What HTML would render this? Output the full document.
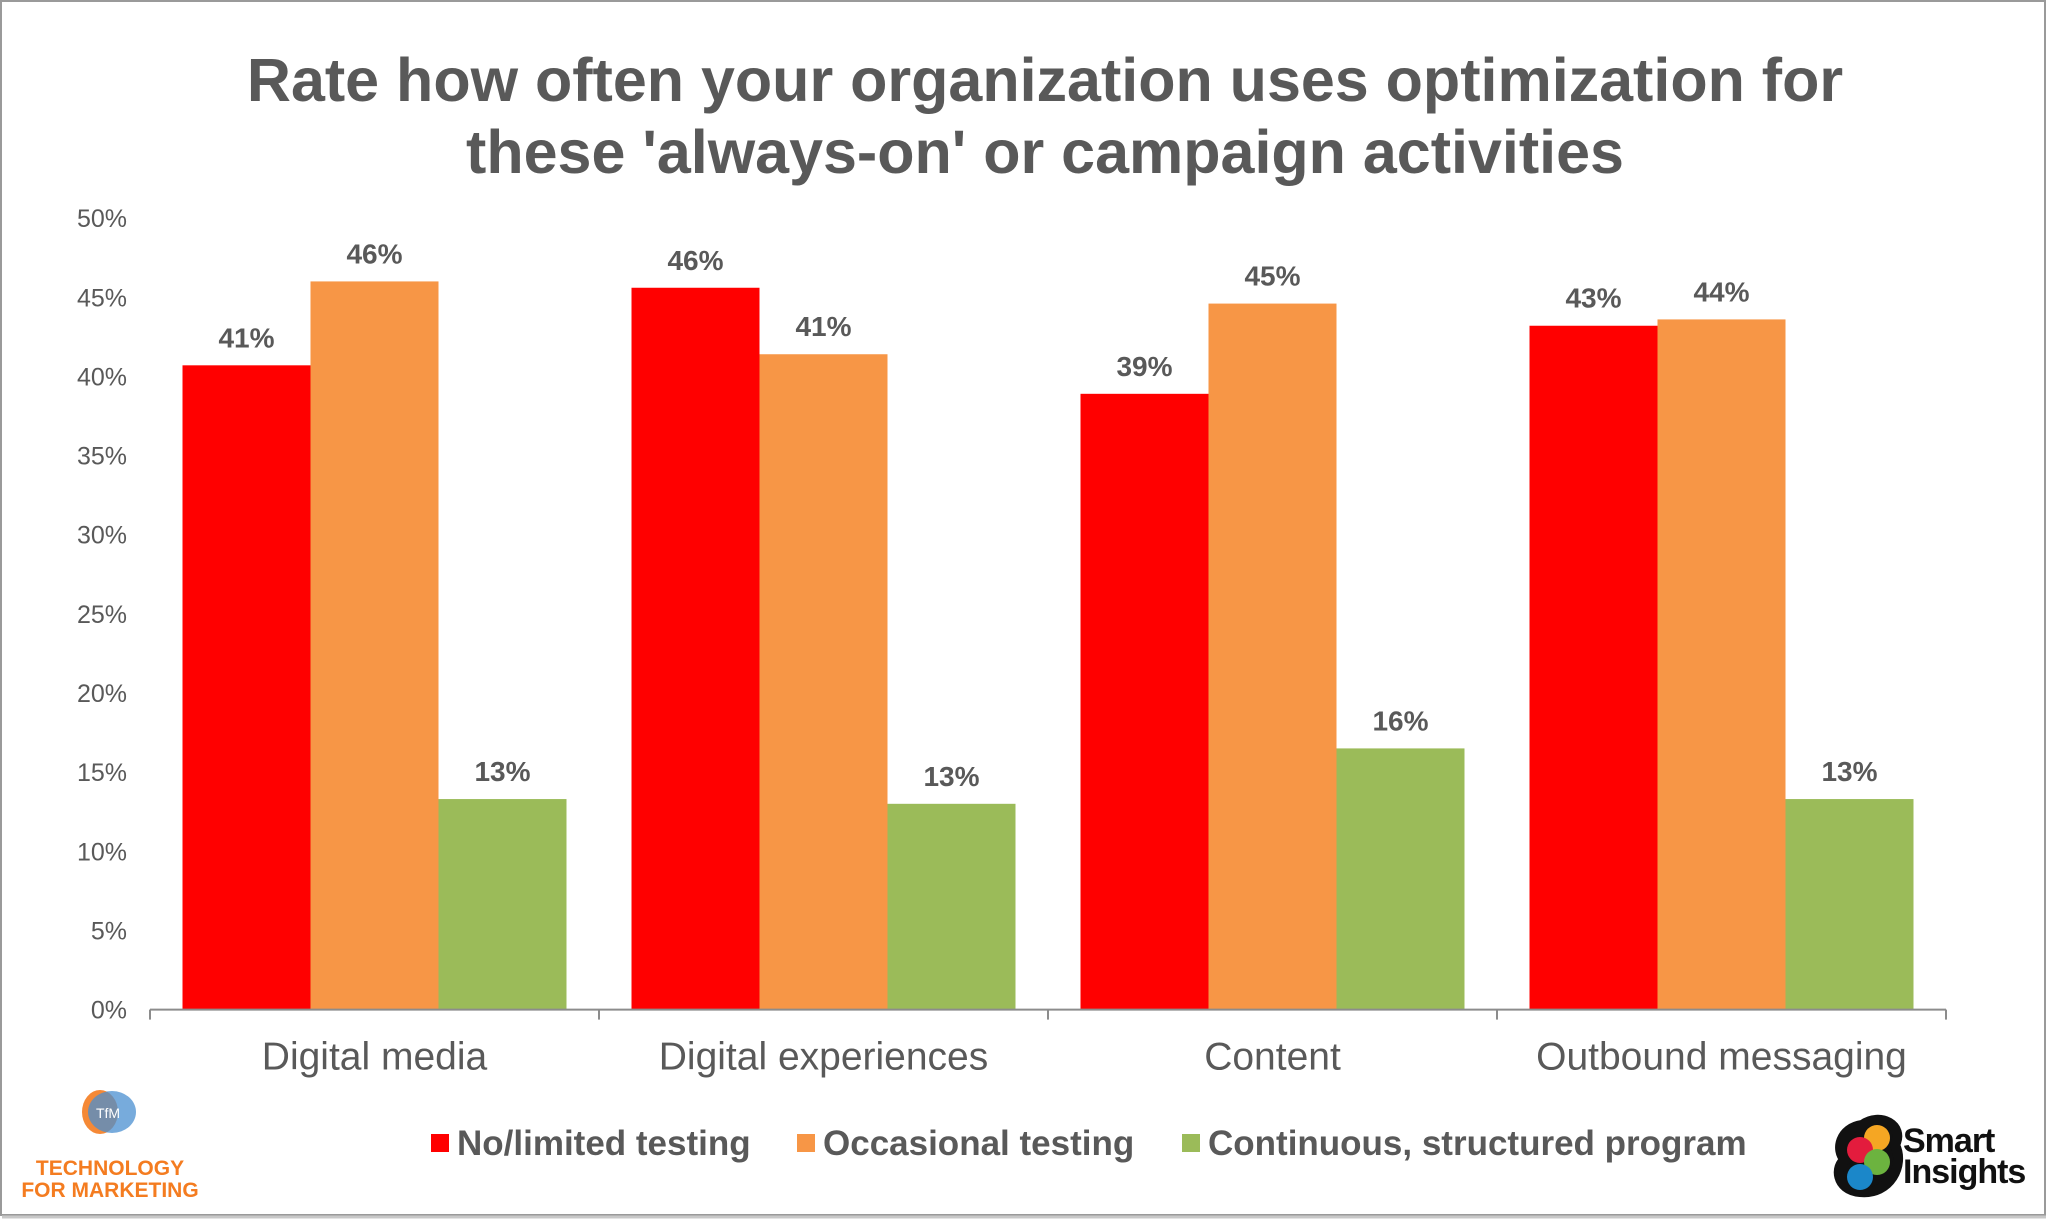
<!DOCTYPE html>
<html><head><meta charset="utf-8"><style>
html,body{margin:0;padding:0;background:#fff;}
svg{display:block;font-family:"Liberation Sans",Arial,sans-serif;}
</style></head><body>
<svg id="chart" width="2048" height="1220" viewBox="0 0 2048 1220">
<rect x="1" y="1" width="2044" height="1214" fill="#fff" stroke="#9a9a9a" stroke-width="2"/>
<line x1="2" y1="1217" x2="2046" y2="1217" stroke="#c8c8c8" stroke-width="3"/>
<g fill="#595959" font-weight="bold" font-size="61" text-anchor="middle">
<text x="1045" y="101">Rate how often your organization uses optimization for</text>
<text x="1045" y="173">these 'always-on' or campaign activities</text>
</g>
<g id="yaxis"></g>
<g id="bars"></g>
<g id="xaxis"></g>
<g id="legend"></g>
<g>
<ellipse cx="100" cy="1112" rx="18" ry="22" fill="#f47c20" opacity="0.9"/>
<ellipse cx="112" cy="1112" rx="24" ry="21" fill="#4a8fd0" opacity="0.75"/>
<text x="108" y="1118" font-size="14" fill="#fff" text-anchor="middle">TfM</text>
<text x="110" y="1175" font-size="21" font-weight="bold" fill="#f47c20" text-anchor="middle">TECHNOLOGY</text>
<text x="110" y="1197" font-size="21" font-weight="bold" fill="#f47c20" text-anchor="middle">FOR MARKETING</text>
</g>
<g>
<path d="M1862 1125 C1880 1112 1905 1125 1895 1145 C1905 1165 1890 1195 1860 1192 C1835 1190 1835 1165 1845 1160 C1835 1150 1840 1128 1862 1125 Z" fill="#111" stroke="#111" stroke-width="10"/>
<circle cx="1877" cy="1138" r="13" fill="#f5a623"/>
<circle cx="1860" cy="1150" r="13" fill="#e31c3d"/>
<circle cx="1877" cy="1162" r="13" fill="#6cb33f"/>
<circle cx="1860" cy="1177" r="13" fill="#1b87c9"/>
<text x="1903" y="1152" font-size="34" font-weight="bold" fill="#111" letter-spacing="-1">Smart</text>
<text x="1903" y="1183" font-size="34" font-weight="bold" fill="#111" letter-spacing="-1">Insights</text>
</g>
</svg>
<script>
const categories = ["Digital media","Digital experiences","Content","Outbound messaging"];
const seriesNames = ["No/limited testing","Occasional testing","Continuous, structured program"];
const noLimited = [40.7, 45.6, 38.9, 43.2];
const occasional = [46.0, 41.4, 44.6, 43.6];
const continuous = [13.3, 13.0, 16.5, 13.3];
const valueLabels = [["41%","46%","13%"],["46%","41%","13%"],["39%","45%","16%"],["43%","44%","13%"]];
const yTicks = [0,5,10,15,20,25,30,35,40,45,50];

const NS="http://www.w3.org/2000/svg";
const colors=["#ff0000","#f79646","#9bbb59"];
const y0=1009.6, yTop=218.1, yMax=50;
const xL=150, xR=1946;
function yScale(v){return y0-(v/yMax)*(y0-yTop);}
const groupW=(xR-xL)/categories.length;
function mk(tag,attrs,parent,txt){const e=document.createElementNS(NS,tag);for(const k in attrs)e.setAttribute(k,attrs[k]);if(txt!==undefined)e.textContent=txt;parent.appendChild(e);return e;}

const yg=document.getElementById('yaxis');
yTicks.forEach(t=>{
  const e=mk('text',{x:127,y:yScale(t)+9,'font-size':25,fill:'#595959','text-anchor':'end'},yg,t+'%');
  
  
});

const xg=document.getElementById('xaxis');
mk('line',{x1:xL,y1:y0,x2:xR,y2:y0,stroke:'#8c8c8c','stroke-width':2},xg);
for(let i=0;i<=categories.length;i++){
  const x=xL+i*groupW;
  mk('line',{x1:x,y1:y0,x2:x,y2:y0+10,stroke:'#8c8c8c','stroke-width':2},xg);
}
categories.forEach((c,i)=>{
  const e=mk('text',{x:xL+(i+0.5)*groupW,y:y0+60,'font-size':39,fill:'#595959','text-anchor':'middle'},xg,c);
  
  
});

const bg=document.getElementById('bars');
const series=[noLimited,occasional,continuous];
const barW=128, pad=(groupW-3*barW)/2;
categories.forEach((c,i)=>{
  series.forEach((s,j)=>{
    const x=xL+i*groupW+pad+j*barW, y=yScale(s[i]);
    const r=mk('rect',{x:x,y:y,width:barW,height:y0-y,fill:colors[j]},bg);
    
    
    const t=mk('text',{x:x+barW/2,y:y-18,'font-size':28,'font-weight':'bold',fill:'#595959','text-anchor':'middle'},bg,valueLabels[i][j]);
    
    
  });
});

const lg=document.getElementById('legend');
const legX=[431,797,1182];
seriesNames.forEach((n,j)=>{
  const g=mk('g',{},lg);
  
  
  mk('rect',{x:legX[j],y:1134,width:18,height:18,fill:colors[j]},g);
  mk('text',{x:legX[j]+26,y:1155,'font-size':35,'font-weight':'bold',fill:'#595959'},g,n);
});
</script>
</body></html>
